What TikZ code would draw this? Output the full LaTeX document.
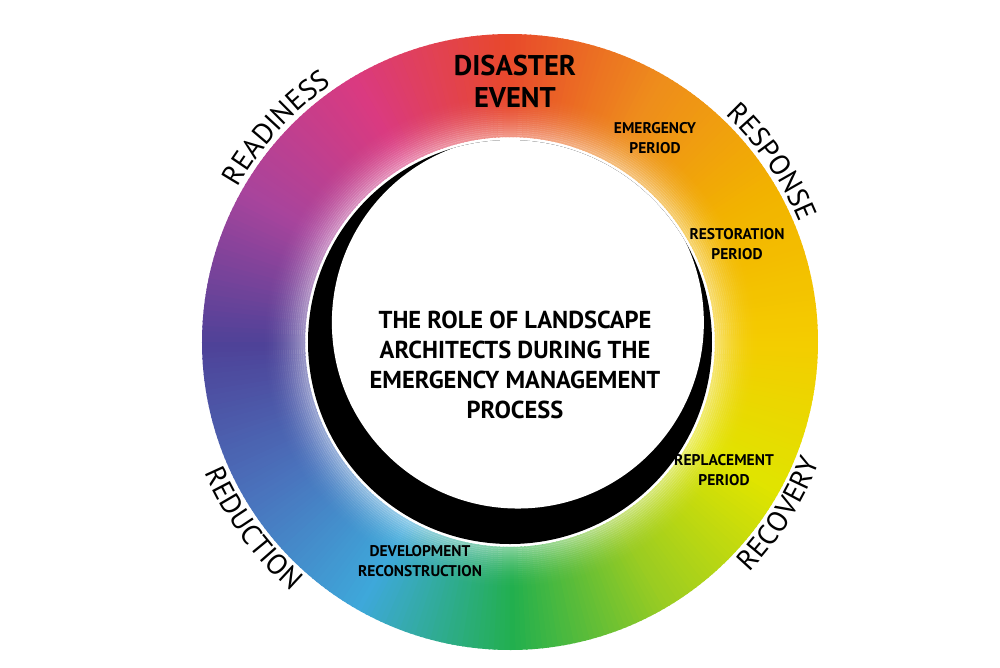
\documentclass[tikz,border=0pt]{standalone}
\usepackage{fontspec}
\setmainfont{PT Sans}
\usepackage{tikz}
\usetikzlibrary{decorations.text,positioning}
% hues of the wheel, one every 30 degrees (0 = right, counterclockwise)
\definecolor{hue0}{HTML}{F4CC00}
\definecolor{hue1}{HTML}{F2B200}
\definecolor{hue2}{HTML}{EE8C1C}
\definecolor{hue3}{HTML}{E8482C}
\definecolor{hue4}{HTML}{DA3A80}
\definecolor{hue5}{HTML}{A8449C}
\definecolor{hue6}{HTML}{4E4298}
\definecolor{hue7}{HTML}{4A72BC}
\definecolor{hue8}{HTML}{3EA8DA}
\definecolor{hue9}{HTML}{22AF4E}
\definecolor{hue10}{HTML}{9ACC22}
\definecolor{hue11}{HTML}{E0E400}
\newcommand\ringfont{\fontsize{5.7mm}{6mm}\selectfont}
\tikzset{
  eventtext/.style={font=\fontsize{5.7mm}{6.4mm}\selectfont\bfseries,
    align=center,inner sep=0pt,text=black},
  periodtext/.style={font=\fontsize{3.1mm}{4mm}\selectfont\bfseries,
    align=center,inner sep=0pt,text=black},
  titletext/.style={font=\fontsize{4.9mm}{6mm}\selectfont\bfseries,
    align=center,inner sep=0pt,text=black},
  ringtext/.style={decorate,
    decoration={text along path,text={|\ringfont|#1},text align=center}}
}

\begin{document}
\begin{tikzpicture}[x=0.2mm,y=0.2mm]
  \useasboundingbox (-510,-325) rectangle (490,342);
  % colour wheel: slices of one degree, mixed between neighbouring hues
  \foreach \ang in {0,...,359}{
    \pgfmathtruncatemacro\seg{\ang/30}
    \pgfmathtruncatemacro\nxt{mod(\seg+1,12)}
    \pgfmathtruncatemacro\mix{100*(\ang-30*\seg)/30}
    \fill[fill=hue\nxt!\mix!hue\seg] (\ang:205) arc[start angle=\ang,end angle=\ang+1.3,radius=205]
      -- (\ang+1.3:308) arc[start angle=\ang+1.3,end angle=\ang,radius=308] -- cycle;
  }
  % soft light on the inner edge
  \foreach \k in {0,...,21}{
    \pgfmathsetmacro\op{0.42*(1-\k/22)^2}
    \draw[white,line width=0.44mm,opacity=\op] (0,0) circle[radius=206+2*\k];
  }
  % black crescent
  \fill[black] (0,0) circle[radius=202];
  \begin{scope}
    \clip (0,0) circle[radius=202];
    \fill[white] (68:21) circle[radius=186];
  \end{scope}
  % phases round the wheel
  \path[ringtext={READINESS}] (162:313) arc[start angle=162,end angle=113,radius=313];
  \path[ringtext={RESPONSE}] (58:313) arc[start angle=58,end angle=11,radius=313];
  \path[ringtext={REDUCTION}] (192:332) arc[start angle=192,end angle=240,radius=332];
  \path[ringtext={RECOVERY}] (304:332) arc[start angle=304,end angle=351,radius=332];
  % texts on the wheel
  \node[eventtext] (event) at (5,261) {DISASTER\\EVENT};
  \node[periodtext] (emergency) at (145,204) {EMERGENCY\\PERIOD};
  \node[periodtext] (restoration) at (227,98) {RESTORATION\\PERIOD};
  \node[periodtext] (replacement) at (214,-128) {REPLACEMENT\\PERIOD};
  \node[periodtext] (development) at (-90,-219) {DEVELOPMENT\\RECONSTRUCTION};
  \node[titletext] (title) at (5,-23)
    {THE ROLE OF LANDSCAPE\\ARCHITECTS DURING THE\\EMERGENCY MANAGEMENT\\PROCESS};
\end{tikzpicture}
\end{document}
